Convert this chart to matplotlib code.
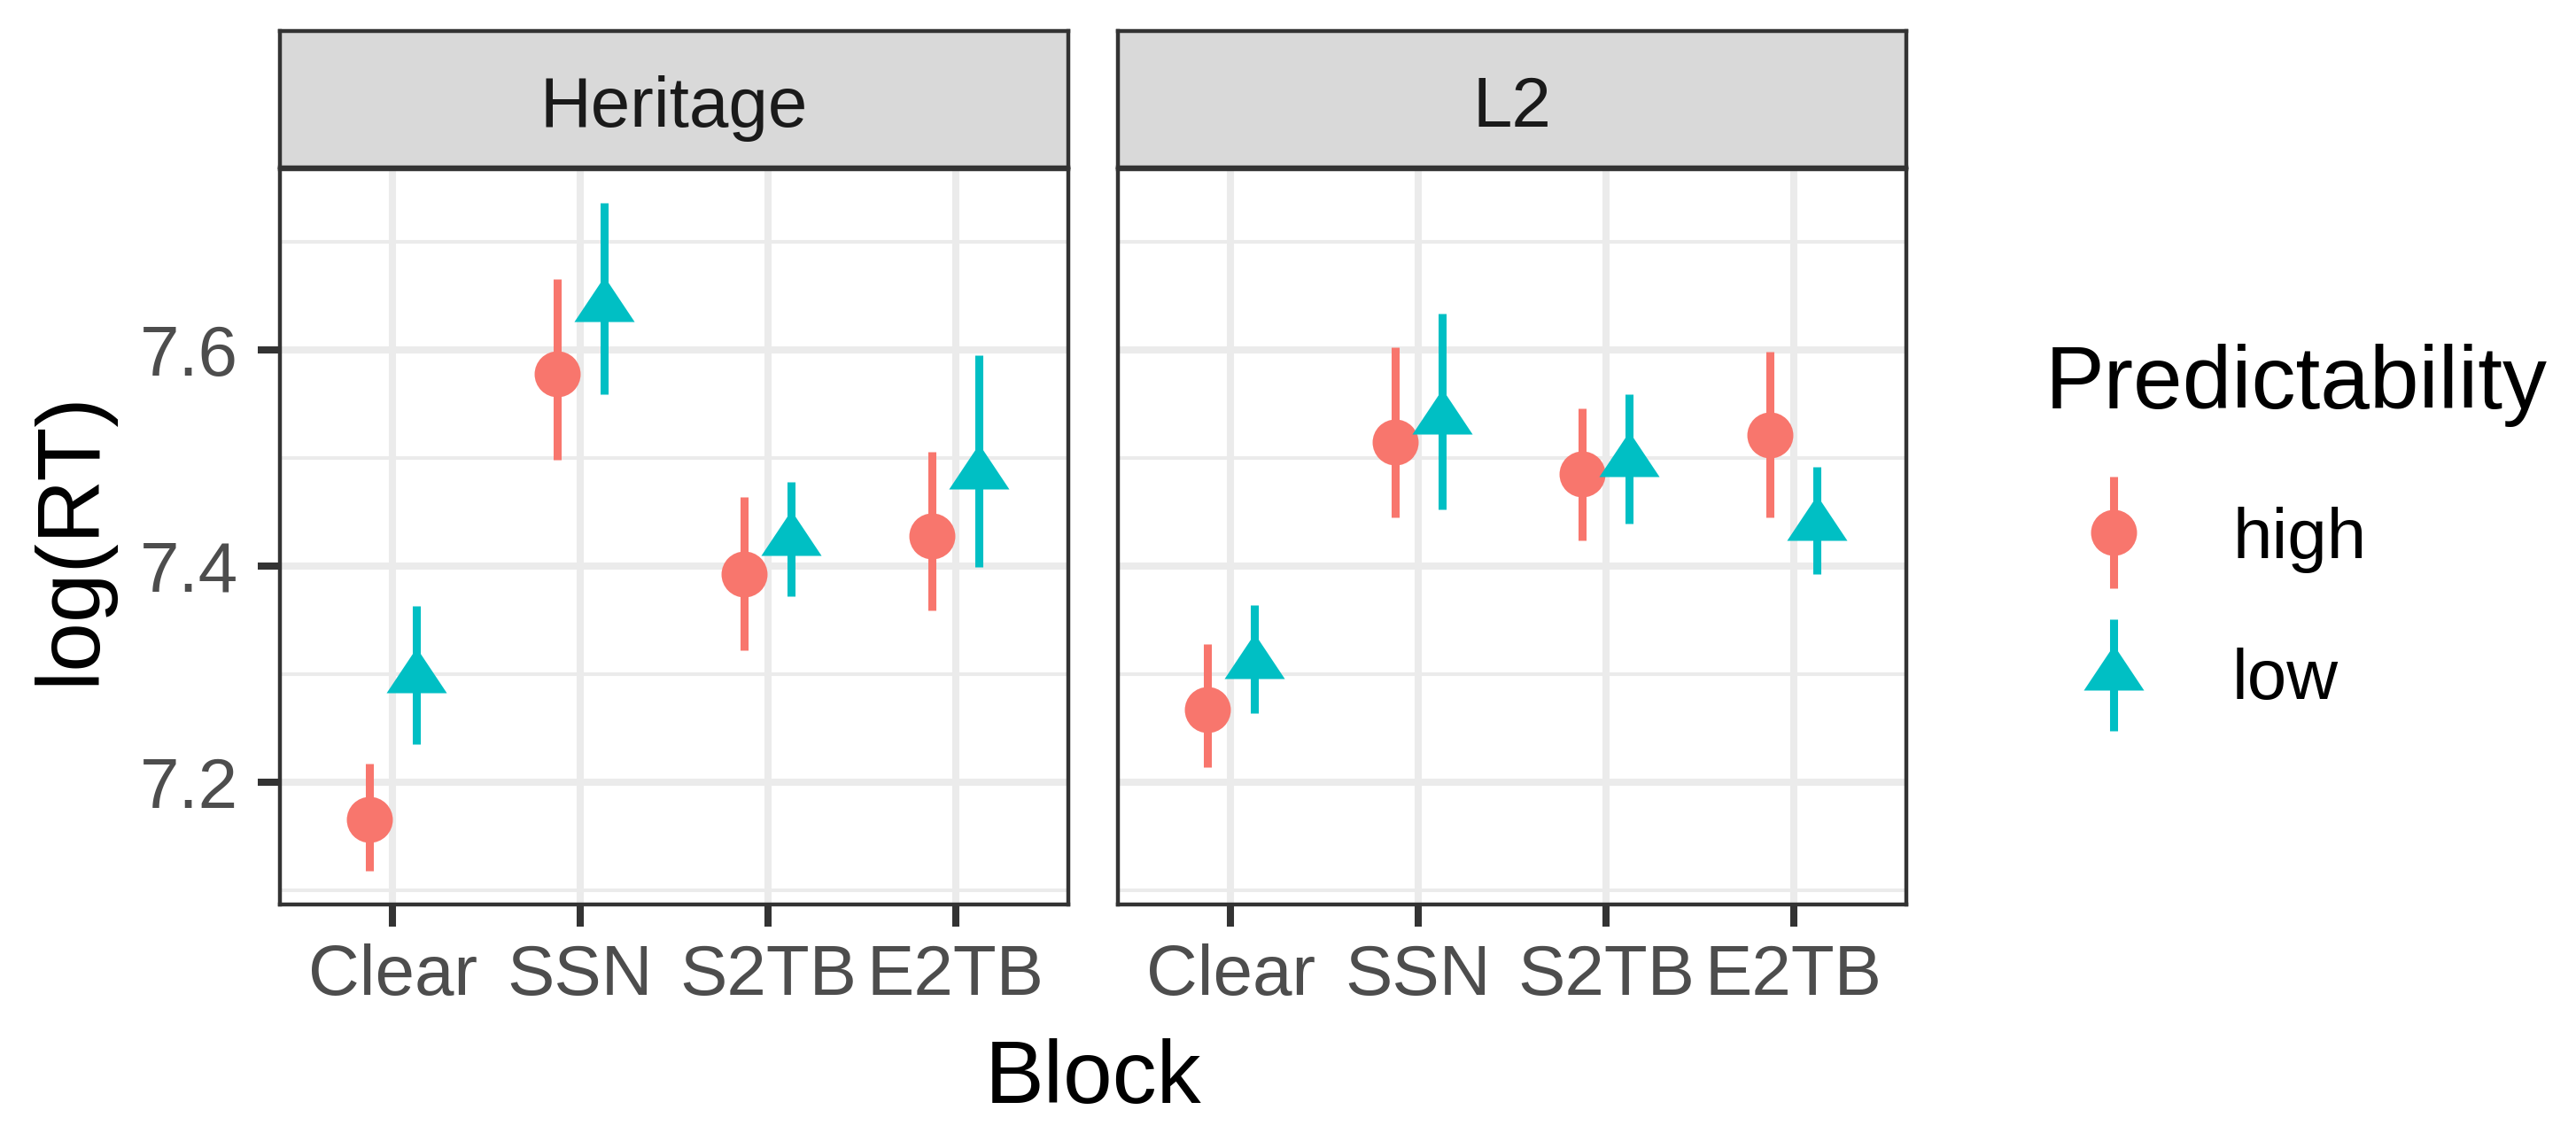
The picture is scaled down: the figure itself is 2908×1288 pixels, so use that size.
import numpy as np
import matplotlib
matplotlib.use('Agg')
import matplotlib.pyplot as plt
from matplotlib.path import Path

plt.rcParams['font.family'] = ['Liberation Sans', 'DejaVu Sans']

# data
blocks = ['Clear', 'SSN', 'S2TB', 'E2TB']
groups = ['Heritage', 'L2']
levels = ['high', 'low']

heritage_high = [7.166, 7.578, 7.393, 7.428]
heritage_high_lo = [7.118, 7.498, 7.322, 7.359]
heritage_high_hi = [7.217, 7.665, 7.464, 7.506]
heritage_low = [7.297, 7.640, 7.424, 7.485]
heritage_low_lo = [7.235, 7.559, 7.372, 7.399]
heritage_low_hi = [7.363, 7.736, 7.478, 7.595]

l2_high = [7.267, 7.515, 7.485, 7.521]
l2_high_lo = [7.214, 7.445, 7.424, 7.445]
l2_high_hi = [7.328, 7.602, 7.546, 7.598]
l2_low = [7.310, 7.536, 7.497, 7.438]
l2_low_lo = [7.264, 7.452, 7.439, 7.393]
l2_low_hi = [7.364, 7.633, 7.559, 7.492]

panels = {
    'Heritage': {'high': (heritage_high, heritage_high_lo, heritage_high_hi),
                 'low': (heritage_low, heritage_low_lo, heritage_low_hi)},
    'L2': {'high': (l2_high, l2_high_lo, l2_high_hi),
           'low': (l2_low, l2_low_lo, l2_low_hi)},
}

colors = {'high': '#F8766D', 'low': '#00BFC4'}
tri = Path([(0, 1), (-1, -0.5), (1, -0.5), (0, 1)],
           [Path.MOVETO, Path.LINETO, Path.LINETO, Path.CLOSEPOLY])
markers = {'high': 'o', 'low': tri}
msizes = {'high': 18.7, 'low': 24.5}
dodge = {'high': -0.125, 'low': 0.125}

# y limits like ggplot's 5% expansion
all_lo = min(min(v) for g in panels.values() for t in g.values() for v in [t[1]])
all_hi = max(max(v) for g in panels.values() for t in g.values() for v in [t[2]])
rng = all_hi - all_lo
ylim = (all_lo - 0.05 * rng, all_hi + 0.05 * rng)

W, H = 2908, 1288
dpi = 200
fig = plt.figure(figsize=(W / dpi, H / dpi), dpi=dpi)

grey20 = '#333333'
panel_lefts = [316, 1262]
panel_w = 890
panel_top, panel_bot = 191, 1021
strip_top = 35

x = np.arange(1, len(blocks) + 1)

for i, grp in enumerate(groups):
    left = panel_lefts[i] / W
    ax = fig.add_axes([left, 1 - panel_bot / H, panel_w / W, (panel_bot - panel_top) / H])
    ax.set_xlim(0.4, len(blocks) + 0.6)
    ax.set_ylim(*ylim)
    ax.set_yticks([7.2, 7.4, 7.6])
    ax.set_yticks([7.1, 7.3, 7.5, 7.7], minor=True)
    ax.set_xticks(x)
    ax.set_xticklabels(blocks)
    ax.grid(True, which='major', color='#EBEBEB', linewidth=2.9, zorder=0)
    ax.grid(True, which='minor', axis='y', color='#EBEBEB', linewidth=1.45, zorder=0)
    ax.set_axisbelow(True)
    for sp in ax.spines.values():
        sp.set_color(grey20)
        sp.set_linewidth(1.6)
    ax.tick_params(axis='both', which='major', length=9, width=2.9, color=grey20,
                   labelsize=28.8, labelcolor='#4D4D4D')
    ax.tick_params(axis='x', pad=7)
    ax.tick_params(axis='y', pad=8)
    ax.tick_params(which='minor', length=0)
    if i > 0:
        ax.tick_params(axis='y', left=False, labelleft=False)

    # ranges first, then points
    for lev in levels:
        mean, lo, hi = panels[grp][lev]
        ax.vlines(x + dodge[lev], lo, hi, color=colors[lev], linewidth=3.25,
                  capstyle='butt', zorder=3)
    for lev in levels:
        mean, lo, hi = panels[grp][lev]
        ax.plot(x + dodge[lev], mean, linestyle='none', marker=markers[lev],
                markersize=msizes[lev], color=colors[lev], markeredgewidth=0, zorder=4)

    # facet strip
    sax = fig.add_axes([left, 1 - (panel_top - 2) / H, panel_w / W, (panel_top - 2 - strip_top) / H])
    sax.set_facecolor('#D9D9D9')
    sax.set_xticks([])
    sax.set_yticks([])
    for sp in sax.spines.values():
        sp.set_color(grey20)
        sp.set_linewidth(1.6)
    sax.text(0.5, 0.30, grp, transform=sax.transAxes, ha='center', va='baseline',
             fontsize=28.8, color='#1A1A1A')

# axis titles
fig.text((panel_lefts[0] + panel_lefts[1] + panel_w) / 2 / W, 1 - 1245 / H, 'Block',
         ha='center', va='baseline', fontsize=36)
fig.text(80 / W, 1 - 607 / H, 'log(RT)', rotation=90, ha='center', va='center', fontsize=36)

# legend
lax = fig.add_axes([0, 0, 1, 1])
lax.set_xlim(0, W)
lax.set_ylim(H, 0)
lax.axis('off')
lax.text(2309, 461, 'Predictability', ha='left', va='baseline', fontsize=36)
key_y = {'high': 601, 'low': 762}
lab_base = {'high': 630, 'low': 789}
for lev in levels:
    ky = key_y[lev]
    lax.vlines(2386, ky - 63, ky + 63, color=colors[lev], linewidth=3.25, capstyle='butt')
    lax.plot(2386, ky, linestyle='none', marker=markers[lev], markersize=msizes[lev],
             color=colors[lev], markeredgewidth=0)
    lax.text(2520, lab_base[lev], lev, ha='left', va='baseline', fontsize=28.8)

fig.savefig('out.png', dpi=dpi, facecolor='white')
